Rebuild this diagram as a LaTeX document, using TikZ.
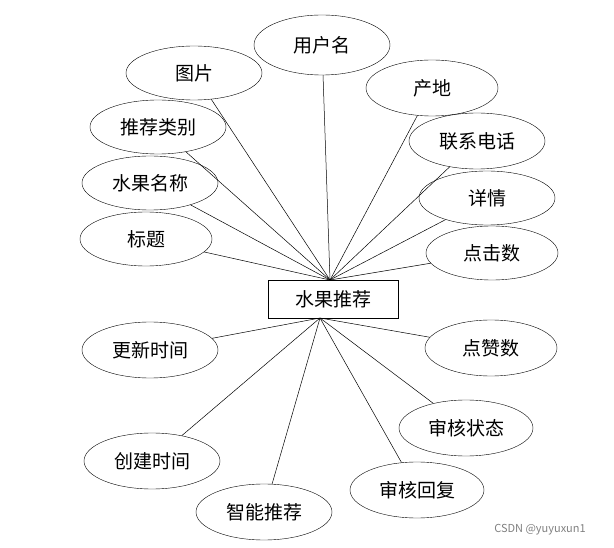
\documentclass[tikz,border=0pt]{standalone}
\usepackage{fontspec}
\setmainfont{Noto Sans CJK SC}
\usetikzlibrary{shapes.geometric}
\begin{document}
\begin{tikzpicture}[x=1pt,y=-1pt,
  attr/.style={ellipse,draw,inner sep=0pt,font=\fontsize{19}{22}\selectfont},
  ent/.style={rectangle,draw,minimum width=130pt,minimum height=38pt,font=\fontsize{19}{22}\selectfont},
  lk/.style={draw,line width=0.5pt}]
\useasboundingbox (0,0) rectangle (614,548);
\node[ent] (r) at (333,299) {水果推荐};
\coordinate (t) at (330,280);
\coordinate (b) at (320,318);
\foreach \n/\x/\y/\rx/\ry/\txt in {
 a/322/45/68/30/用户名, b1/194/73/68/27/图片, c/432/88/66/28/产地,
 d/158/127/68/27/推荐类别, e/477/141/68/28/联系电话, f/150/183/68/27/水果名称,
 g/487/198/68/27/详情, h/146/239/66/27/标题, i/492/253/66/27/点击数}{
  \node[attr,minimum width=2*\rx pt,minimum height=2*\ry pt] (\n) at (\x,\y) {\txt};
  \draw[lk] (\n) -- (t);
}
\foreach \n/\x/\y/\rx/\ry/\txt in {
 j/150/350/68/28/更新时间, k/491/348/66/28/点赞数, l/466/428/67/28/审核状态,
 m/152/461/68/28/创建时间, o/417/490/67/28/审核回复, p/264/512/68/28/智能推荐}{
  \node[attr,minimum width=2*\rx pt,minimum height=2*\ry pt] (\n) at (\x,\y) {\txt};
  \draw[lk] (\n) -- (b);
}
\node[text=gray,font=\fontsize{11}{13}\selectfont] (w) at (540,530) {CSDN @yuyuxun1};
\end{tikzpicture}
\end{document}
